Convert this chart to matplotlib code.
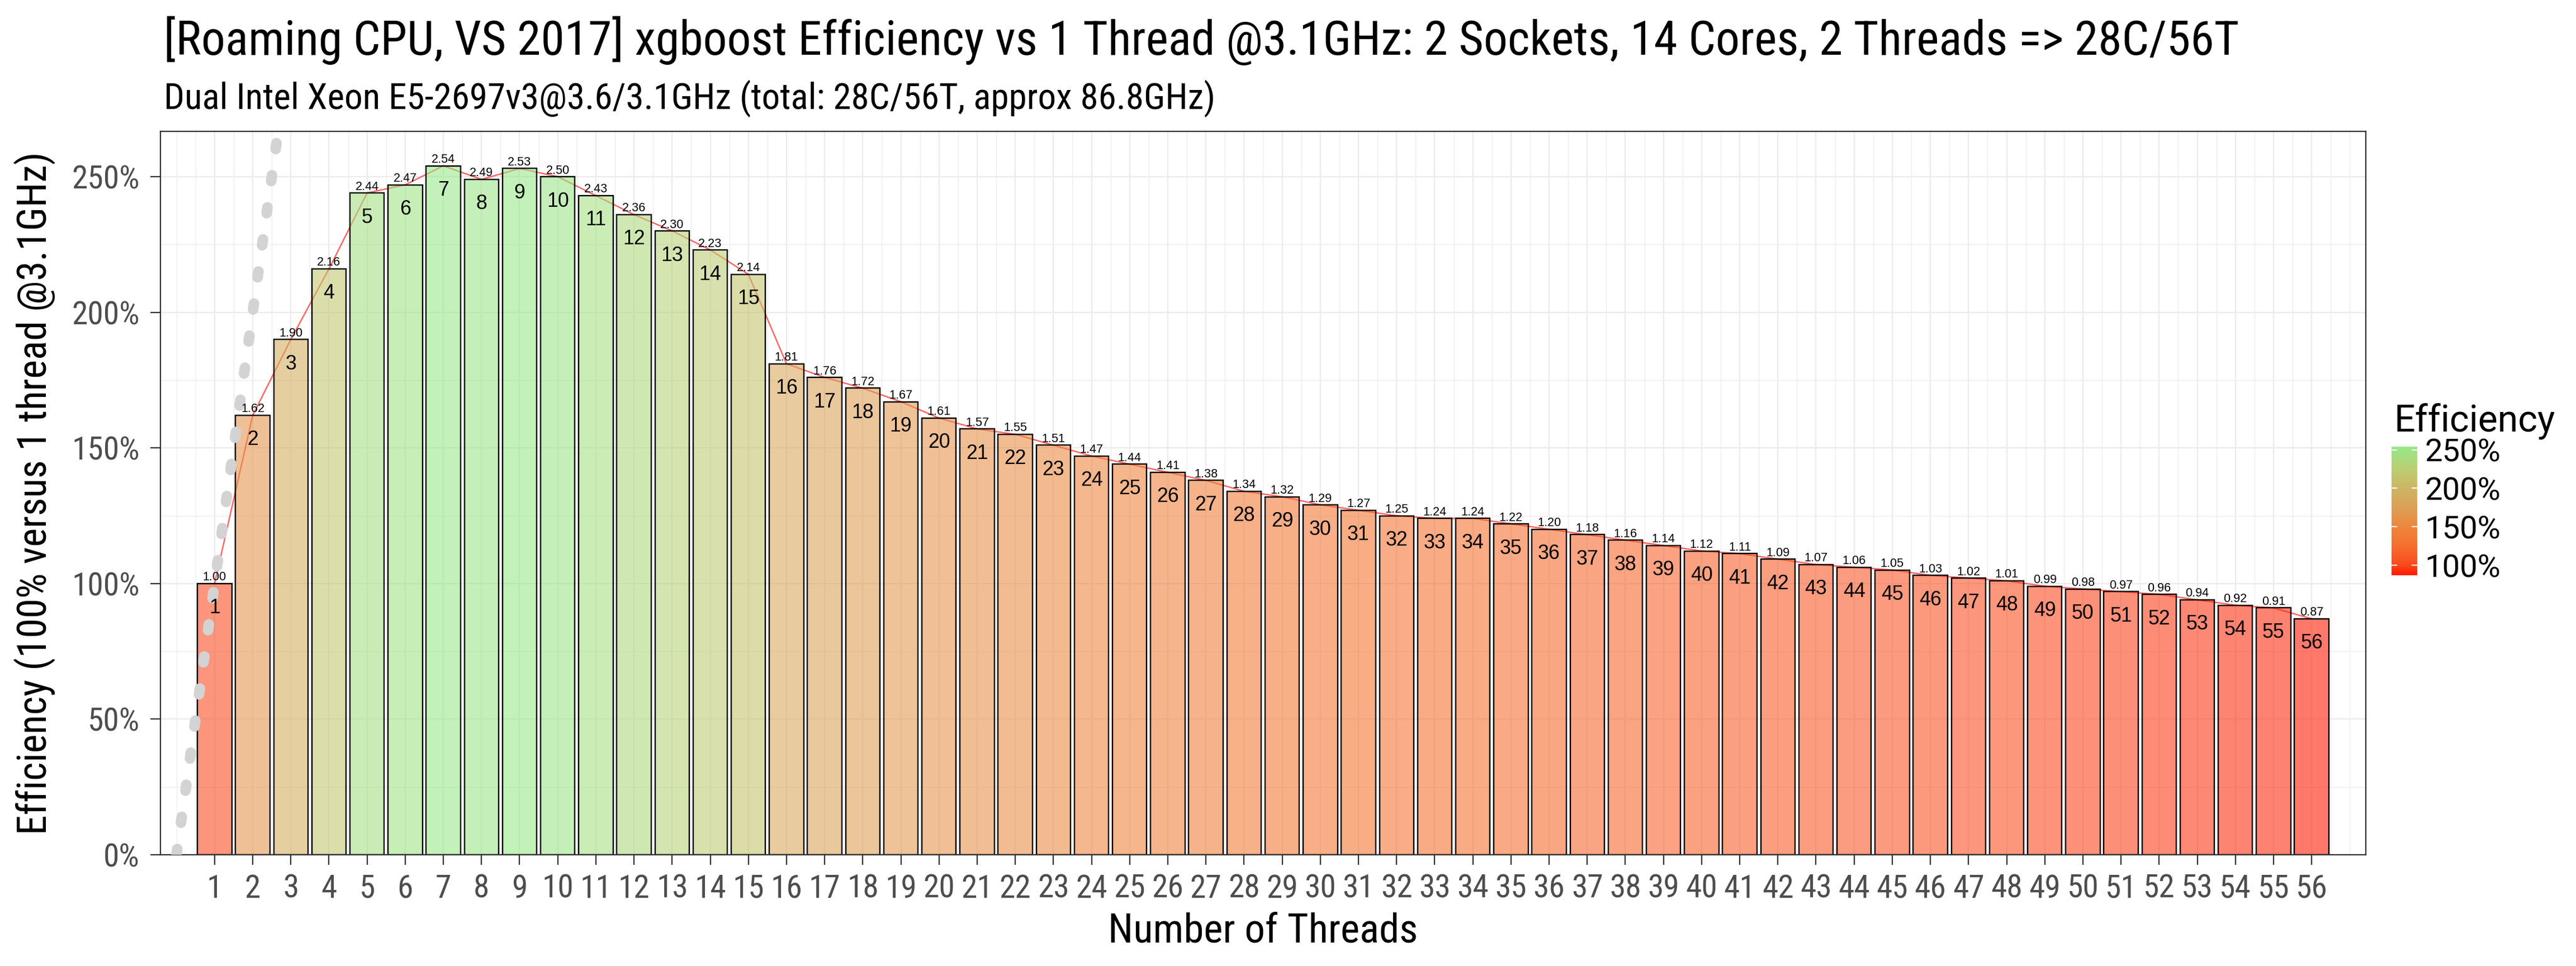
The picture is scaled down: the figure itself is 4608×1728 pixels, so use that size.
import matplotlib
matplotlib.use("Agg")
import numpy as np
import matplotlib.pyplot as plt
from matplotlib import font_manager as fm
from matplotlib.colors import LinearSegmentedColormap, Normalize
from matplotlib.ticker import FuncFormatter, FixedLocator

# ---------------- data ----------------
threads = list(range(1, 57))
efficiency = [1.00, 1.62, 1.90, 2.16, 2.44, 2.47, 2.54, 2.49, 2.53, 2.50,
              2.43, 2.36, 2.30, 2.23, 2.14, 1.81, 1.76, 1.72, 1.67, 1.61,
              1.57, 1.55, 1.51, 1.47, 1.44, 1.41, 1.38, 1.34, 1.32, 1.29,
              1.27, 1.25, 1.24, 1.24, 1.22, 1.20, 1.18, 1.16, 1.14, 1.12,
              1.11, 1.09, 1.07, 1.06, 1.05, 1.03, 1.02, 1.01, 0.99, 0.98,
              0.97, 0.96, 0.94, 0.92, 0.91, 0.87]
y_ticks = [0.0, 0.5, 1.0, 1.5, 2.0, 2.5]
legend_ticks = [1.0, 1.5, 2.0, 2.5]

title = "[Roaming CPU, VS 2017] xgboost Efficiency vs 1 Thread @3.1GHz: 2 Sockets, 14 Cores, 2 Threads => 28C/56T"
subtitle = "Dual Intel Xeon E5-2697v3@3.6/3.1GHz (total: 28C/56T, approx 86.8GHz)"
xlabel = "Number of Threads"
ylabel = "Efficiency (100% versus 1 thread @3.1GHz)"
legend_title = "Efficiency"

# ---------------- fonts ----------------
def pick(cands):
    for c in cands:
        try:
            fm.findfont(fm.FontProperties(family=c), fallback_to_default=False)
            return c
        except Exception:
            pass
    return "DejaVu Sans"

COND = pick(["Roboto Condensed", "Liberation Sans Narrow", "Roboto"])
REG = pick(["Roboto", "DejaVu Sans"])
ARIAL = pick(["Liberation Sans", "Arimo", "DejaVu Sans"])

# ---------------- figure ----------------
W, H, DPI = 4608, 1728, 300
fig = plt.figure(figsize=(W / DPI, H / DPI), dpi=DPI)
PX = 72.0 / DPI  # points per pixel

p_left, p_right, p_top, p_bottom = 287, 4232, 235, 1529
ax = fig.add_axes([p_left / W, (H - p_bottom) / H, (p_right - p_left) / W, (p_bottom - p_top) / H])

# colour scale (sampled from the reference legend)
stop_vals = [0.87, 1.00, 1.25, 1.50, 1.75, 2.00, 2.25, 2.54]
stop_cols = [(255, 25, 0), (250, 75, 30), (245, 112, 45), (237, 135, 62),
             (220, 160, 85), (205, 182, 100), (188, 206, 115), (150, 232, 136)]
vmin, vmax = min(efficiency), max(efficiency)
cmap = LinearSegmentedColormap.from_list(
    "eff", [((v - stop_vals[0]) / (stop_vals[-1] - stop_vals[0]), tuple(c / 255 for c in col))
            for v, col in zip(stop_vals, stop_cols)])
norm = Normalize(vmin=vmin, vmax=vmax)

ax.set_xlim(-0.42, 57.42)
ax.set_ylim(0, vmax * 1.05)

# grid
ax.set_axisbelow(True)
ax.xaxis.set_major_locator(FixedLocator(threads))
ax.xaxis.set_minor_locator(FixedLocator([0] + [t + 0.5 for t in range(0, 57)] + [57]))
ax.yaxis.set_major_locator(FixedLocator(y_ticks))
ax.yaxis.set_minor_locator(FixedLocator([0.25, 0.75, 1.25, 1.75, 2.25]))
ax.grid(which="major", color="#EBEBEB", linewidth=0.55, zorder=0)
ax.grid(which="minor", color="#EBEBEB", linewidth=0.3, zorder=0)

# thin red connecting line (below the bars)
ax.plot(threads, efficiency, color="#FF3030", alpha=0.75, linewidth=0.6, zorder=1)

# bars
colors = cmap(norm(np.array(efficiency)))
ax.bar(threads, efficiency, width=0.9, color=colors, alpha=0.58,
       edgecolor="black", linewidth=0.55, zorder=2)
ax.bar(threads, efficiency, width=0.9, facecolor="none",
       edgecolor="black", linewidth=0.55, zorder=2.1)

# ideal linear scaling line
ax.axline((0, 0), slope=1, color="#D3D3D3", linewidth=19 * PX,
          dashes=(0.55, 2.5), dash_capstyle="round", zorder=3)

# labels
for t, e in zip(threads, efficiency):
    ax.annotate(f"{e:.2f}", (t, e), xytext=(0, 5.5 * PX), textcoords="offset points",
                ha="center", va="baseline", fontsize=5.2, family=ARIAL, color="black", zorder=4)
    ax.annotate(f"{t}", (t, e), xytext=(0, -44 * PX), textcoords="offset points",
                ha="center", va="center", fontsize=8.6, family=ARIAL, color="black", zorder=4)

# axes styling
ax.yaxis.set_major_formatter(FuncFormatter(lambda v, p: f"{v * 100:.0f}%"))
for s in ax.spines.values():
    s.set_color("#333333")
    s.set_linewidth(0.55)
ax.tick_params(which="major", length=18 * PX, width=0.55, color="#333333",
               labelsize=13.8, labelcolor="#4D4D4D")
ax.tick_params(which="minor", length=0)
ax.tick_params(axis="x", pad=16 * PX)
ax.tick_params(axis="y", pad=19 * PX)
for lab in ax.get_xticklabels() + ax.get_yticklabels():
    lab.set_family(COND)

ax.set_xlabel(xlabel, fontsize=17.5, family=COND, color="black", labelpad=14 * PX)
fig.text(62 / W, 1 - ((p_top + p_bottom) / 2) / H, ylabel, rotation=90,
         ha="center", va="center", fontsize=17.2, family=COND, color="black")

fig.text(293 / W, 1 - 98 / H, title, ha="left", va="baseline", fontsize=20.6, family=COND)
fig.text(293 / W, 1 - 195 / H, subtitle, ha="left", va="baseline", fontsize=15.6, family=COND)

# ---------------- legend colour bar ----------------
cb_l, cb_r, cb_t, cb_b = 4278, 4324, 799, 1029
cax = fig.add_axes([cb_l / W, (H - cb_b) / H, (cb_r - cb_l) / W, (cb_b - cb_t) / H])
grad = np.linspace(vmin, vmax, 300).reshape(-1, 1)
cax.imshow(grad, extent=[0, 1, vmin, vmax], origin="lower", aspect="auto", cmap=cmap, norm=norm)
cax.set_xlim(0, 1)
cax.set_ylim(vmin, vmax)
for v in legend_ticks:
    cax.plot([0, 0.2], [v, v], color="white", linewidth=0.5)
    cax.plot([0.8, 1], [v, v], color="white", linewidth=0.5)
cax.set_xticks([])
cax.yaxis.tick_right()
cax.set_yticks(legend_ticks)
cax.yaxis.set_major_formatter(FuncFormatter(lambda v, p: f"{v * 100:.0f}%"))
cax.tick_params(axis="y", length=0, pad=13 * PX, labelsize=13.5, labelcolor="black")
for lab in cax.get_yticklabels():
    lab.set_family(REG)
for s in cax.spines.values():
    s.set_visible(False)
fig.text(4282 / W, 1 - 772 / H, legend_title, ha="left", va="baseline", fontsize=15.9, family=REG)

fig.savefig("out.png", dpi=DPI)
